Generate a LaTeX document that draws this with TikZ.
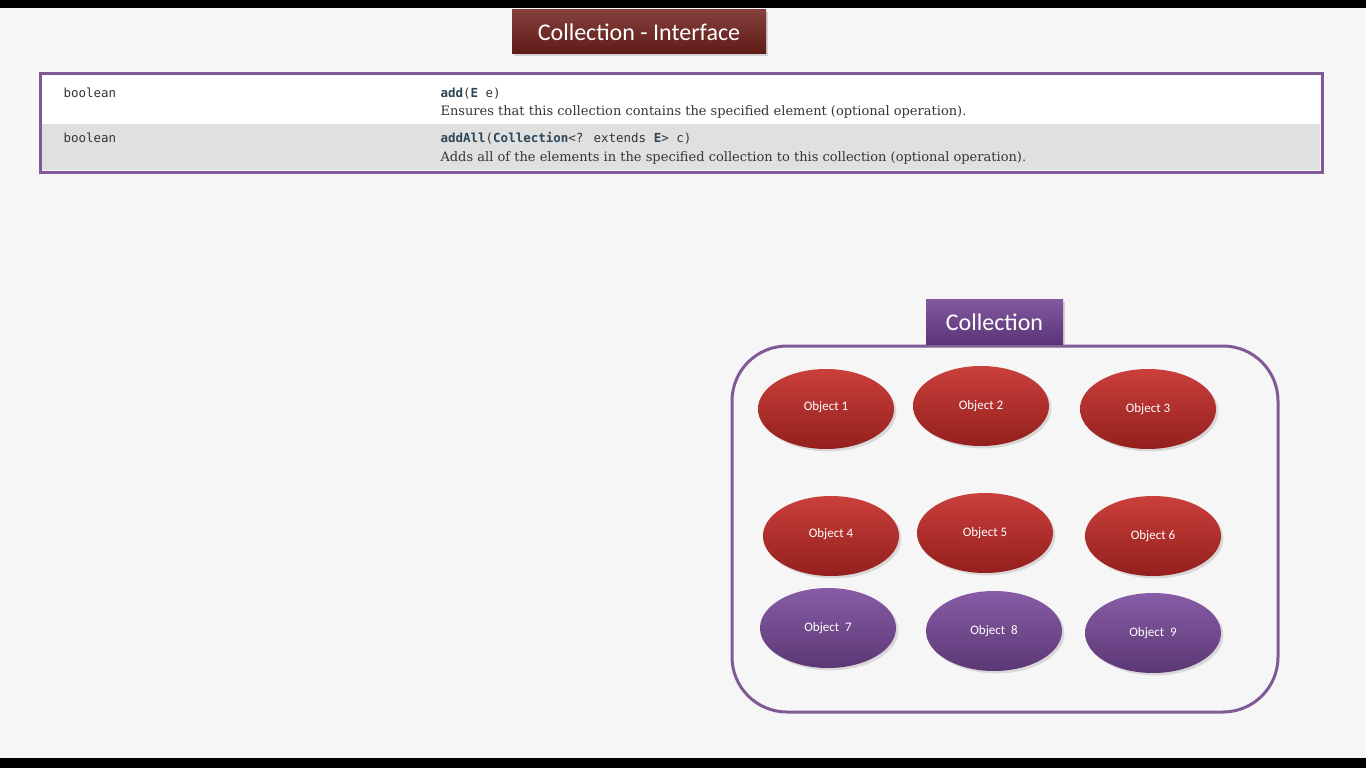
\documentclass[tikz,border=0pt]{standalone}
\usepackage{fontspec}
\setmainfont{Carlito}
\newfontfamily\serifd{DejaVu Serif}
\newfontfamily\monod{DejaVu Sans Mono}
\usetikzlibrary{shapes.geometric,shadows}
\definecolor{bg}{HTML}{F7F6F6}
\definecolor{pur}{HTML}{7F5A96}
\definecolor{purbox}{HTML}{6A3D8C}
\definecolor{darkred}{HTML}{6E1F1A}
\definecolor{objred}{HTML}{C42A26}
\definecolor{objpur}{HTML}{7A4A9C}
\definecolor{txt}{HTML}{353535}
\definecolor{code}{HTML}{2C4557}
\tikzset{
  obj/.style={ellipse, minimum width=136pt, minimum height=80pt, draw=none,
    font=\fontsize{13}{15}\selectfont, text=white, drop shadow={opacity=0.25}},
  redobj/.style={obj, top color=objred!90!white, bottom color=objred!75!black},
  purobj/.style={obj, top color=objpur!90!white, bottom color=objpur!75!black},
  mono/.style={anchor=base west, font=\monod\fontsize{12.5}{14}\selectfont, text=txt},
  desc/.style={anchor=base west, font=\serifd\fontsize{13}{15}\selectfont, text=txt},
}
\begin{document}
\begin{tikzpicture}[x=1pt,y=-1pt]
\useasboundingbox (0,0) rectangle (1366,768);
\fill[bg] (0,0) rectangle (1366,768);
\fill[black] (0,0) rectangle (1366,8);
\fill[black] (0,758) rectangle (1366,768);
% title
\node[minimum width=254pt, minimum height=44pt, top color=darkred!85!white, bottom color=darkred!85!black,
  text=white, font=\fontsize{24}{28}\selectfont, drop shadow={opacity=0.3}] (title) at (639,32) {Collection - Interface};
% table
\fill[white] (42,76) rectangle (1320,124);
\fill[black!12] (42,124) rectangle (1320,170);
\draw[pur, line width=3pt] (40,74) rectangle (1322,172);
\node[mono] (b1) at (60,97) {boolean};
\node[mono] (b2) at (60,142) {boolean};
\node[mono] (m1) at (437,97) {\textcolor{code}{\bfseries add}(\textcolor{code}{\bfseries E} e)};
\node[desc] (d1) at (437,115) {Ensures that this collection contains the specified element (optional operation).};
\node[mono] (m2) at (437,142) {\textcolor{code}{\bfseries addAll}(\textcolor{code}{\bfseries Collection}<? extends \textcolor{code}{\bfseries E}> c)};
\node[desc] (d2) at (437,161) {Adds all of the elements in the specified collection to this collection (optional operation).};
% collection
\draw[pur, line width=3pt, rounded corners=55pt] (732,346) rectangle (1278,712);
\node[minimum width=137pt, minimum height=45pt, top color=purbox!85!white, bottom color=purbox!85!black,
  text=white, font=\fontsize{24}{28}\selectfont, drop shadow={opacity=0.3}] (coll) at (994.5,322) {Collection};
\node[redobj] (o1) at (826,409) {\raisebox{6pt}{Object 1}};
\node[redobj] (o2) at (981,406) {Object 2};
\node[redobj] (o3) at (1148,409) {Object 3};
\node[redobj] (o4) at (831,536) {\raisebox{6pt}{Object 4}};
\node[redobj] (o5) at (985,533) {Object 5};
\node[redobj] (o6) at (1153,536) {Object 6};
\node[purobj] (o7) at (828,628) {Object\ \ 7};
\node[purobj] (o8) at (994,631) {Object\ \ 8};
\node[purobj] (o9) at (1153,633) {Object\ \ 9};
\end{tikzpicture}
\end{document}
